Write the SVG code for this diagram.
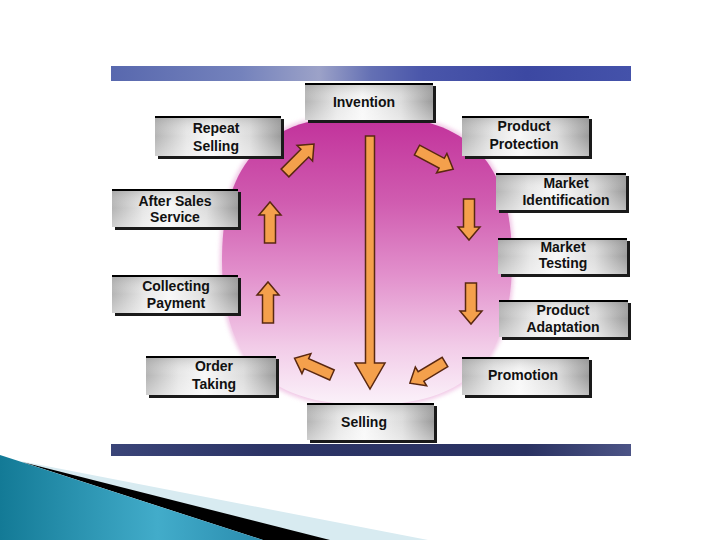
<svg xmlns="http://www.w3.org/2000/svg" xmlns:xlink="http://www.w3.org/1999/xlink" width="720" height="540" viewBox="0 0 720 540">
<defs>
  <linearGradient id="gTop" x1="0" y1="0" x2="1" y2="0">
    <stop offset="0" stop-color="#5868ae"/>
    <stop offset="0.25" stop-color="#7482bc"/>
    <stop offset="0.4" stop-color="#9ca2c8"/>
    <stop offset="0.5" stop-color="#6470b4"/>
    <stop offset="0.6" stop-color="#4a56aa"/>
    <stop offset="0.8" stop-color="#3c48a2"/>
    <stop offset="1" stop-color="#4452aa"/>
  </linearGradient>
  <linearGradient id="gBot" x1="0" y1="0" x2="1" y2="0">
    <stop offset="0" stop-color="#3a4478"/>
    <stop offset="0.3" stop-color="#2c3466"/>
    <stop offset="0.8" stop-color="#2a3262"/>
    <stop offset="1" stop-color="#4c5486"/>
  </linearGradient>
  <linearGradient id="gCircle" x1="0" y1="0" x2="0" y2="1">
    <stop offset="0" stop-color="#c1309a"/>
    <stop offset="0.3" stop-color="#d05cb0"/>
    <stop offset="0.55" stop-color="#e290cc"/>
    <stop offset="0.8" stop-color="#f2cce8"/>
    <stop offset="1" stop-color="#fbf2fa"/>
  </linearGradient>
  <linearGradient id="gBox" x1="0" y1="0" x2="1" y2="0">
    <stop offset="0" stop-color="#b4b4b4"/>
    <stop offset="0.25" stop-color="#e6e6e6"/>
    <stop offset="0.45" stop-color="#f8f8f8"/>
    <stop offset="0.75" stop-color="#dcdcdc"/>
    <stop offset="1" stop-color="#9a9a9a"/>
  </linearGradient>
  <linearGradient id="gBoxV" x1="0" y1="0" x2="0" y2="1">
    <stop offset="0" stop-color="#808080" stop-opacity="0.35"/>
    <stop offset="0.5" stop-color="#ffffff" stop-opacity="0"/>
    <stop offset="1" stop-color="#ffffff" stop-opacity="0.35"/>
  </linearGradient>
  <linearGradient id="gTeal" x1="0" y1="0" x2="1" y2="0">
    <stop offset="0" stop-color="#137a96"/>
    <stop offset="0.6" stop-color="#42acca"/>
    <stop offset="1" stop-color="#2a8cae"/>
  </linearGradient>
  <filter id="soft" x="-10%" y="-10%" width="120%" height="120%">
    <feGaussianBlur stdDeviation="2"/>
  </filter>
  <path id="arr" d="M0,-5.5 H28 V-11 L41,0 L28,11 V5.5 H0 Z"/>
  <style>
    .shadow { fill: #1a1a1a; }
    .box { fill: url(#gBox); }
    .boxv { fill: url(#gBoxV); }
    .top { fill: #000; }
    .lbl { font-family: "Liberation Sans", Arial, sans-serif; font-size: 14px; font-weight: bold; fill: #111; text-anchor: middle; }
    .arrow { fill: #f4a04c; stroke: #5a2810; stroke-width: 1.5; stroke-linejoin: miter; }
  </style>
</defs>

<rect width="720" height="540" fill="#ffffff"/>

<g id="frame">
  <rect x="111" y="66" width="520" height="15" fill="url(#gTop)"/>
  <rect x="111" y="444" width="520" height="12" fill="url(#gBot)"/>
</g>

<g id="decoration">
  <polygon points="20,461 428,540 263,540" fill="#d8ebf1"/>
  <polygon points="22,462 330,540 263,540" fill="#000000"/>
  <polygon points="0,455 263,540 0,540" fill="url(#gTeal)"/>
</g>

<g id="circle">
  <path d="M367,113 C469,113 514,158 514,260 C514,362 469,407 367,407 C265,407 220,362 220,260 C220,158 265,113 367,113 Z" fill="#e6a0d4" opacity="0.6" filter="url(#soft)"/>
  <path d="M367,115 C467,115 512,160 512,260 C512,360 467,405 367,405 C267,405 222,360 222,260 C222,160 267,115 367,115 Z" fill="url(#gCircle)"/>
</g>

<g id="connectors">
  <path class="arrow" d="M365.5,136 H374.5 V363 H385 L370,389 L355,363 H365.5 Z"/>
  <use xlink:href="#arr" class="arrow" transform="translate(285,173) rotate(-45)"/>
  <use xlink:href="#arr" class="arrow" transform="translate(417,150) rotate(28)"/>
  <use xlink:href="#arr" class="arrow" transform="translate(469,199) rotate(90)"/>
  <use xlink:href="#arr" class="arrow" transform="translate(471,283) rotate(90)"/>
  <use xlink:href="#arr" class="arrow" transform="translate(445,362) rotate(149)"/>
  <use xlink:href="#arr" class="arrow" transform="translate(332,375) rotate(-156)"/>
  <use xlink:href="#arr" class="arrow" transform="translate(268,323) rotate(-90)"/>
  <use xlink:href="#arr" class="arrow" transform="translate(270,243) rotate(-90)"/>
</g>

<g id="invention">
  <rect class="shadow" x="308" y="86" width="128" height="37"/>
  <rect class="box" x="305" y="83" width="128" height="37"/>
  <rect class="boxv" x="305" y="83" width="128" height="37"/>
  <rect class="top" x="305" y="83" width="128" height="2"/>
  <text class="lbl" x="364" y="107">Invention</text>
</g>

<g id="repeat-selling">
  <rect class="shadow" x="158" y="119" width="126" height="40"/>
  <rect class="box" x="155" y="116" width="126" height="40"/>
  <rect class="boxv" x="155" y="116" width="126" height="40"/>
  <rect class="top" x="155" y="116" width="126" height="2"/>
  <text class="lbl" x="216" y="133">Repeat</text>
  <text class="lbl" x="216" y="151">Selling</text>
</g>

<g id="product-protection">
  <rect class="shadow" x="465" y="119" width="127" height="40"/>
  <rect class="box" x="462" y="116" width="127" height="40"/>
  <rect class="boxv" x="462" y="116" width="127" height="40"/>
  <rect class="top" x="462" y="116" width="127" height="2"/>
  <text class="lbl" x="524" y="131">Product</text>
  <text class="lbl" x="524" y="149">Protection</text>
</g>

<g id="after-sales-service">
  <rect class="shadow" x="115" y="192" width="126" height="38"/>
  <rect class="box" x="112" y="189" width="126" height="38"/>
  <rect class="boxv" x="112" y="189" width="126" height="38"/>
  <rect class="top" x="112" y="189" width="126" height="2"/>
  <text class="lbl" x="175" y="206">After Sales</text>
  <text class="lbl" x="175" y="222">Service</text>
</g>

<g id="market-identification">
  <rect class="shadow" x="499" y="176" width="130" height="37"/>
  <rect class="box" x="496" y="173" width="130" height="37"/>
  <rect class="boxv" x="496" y="173" width="130" height="37"/>
  <rect class="top" x="496" y="173" width="130" height="2"/>
  <text class="lbl" x="566" y="188">Market</text>
  <text class="lbl" x="566" y="205">Identification</text>
</g>

<g id="market-testing">
  <rect class="shadow" x="501" y="241" width="129" height="36"/>
  <rect class="box" x="498" y="238" width="129" height="36"/>
  <rect class="boxv" x="498" y="238" width="129" height="36"/>
  <rect class="top" x="498" y="238" width="129" height="2"/>
  <text class="lbl" x="563" y="252">Market</text>
  <text class="lbl" x="563" y="268">Testing</text>
</g>

<g id="collecting-payment">
  <rect class="shadow" x="115" y="278" width="126" height="38"/>
  <rect class="box" x="112" y="275" width="126" height="38"/>
  <rect class="boxv" x="112" y="275" width="126" height="38"/>
  <rect class="top" x="112" y="275" width="126" height="2"/>
  <text class="lbl" x="176" y="291">Collecting</text>
  <text class="lbl" x="176" y="308">Payment</text>
</g>

<g id="product-adaptation">
  <rect class="shadow" x="502" y="303" width="129" height="37"/>
  <rect class="box" x="499" y="300" width="129" height="37"/>
  <rect class="boxv" x="499" y="300" width="129" height="37"/>
  <rect class="top" x="499" y="300" width="129" height="2"/>
  <text class="lbl" x="563" y="315">Product</text>
  <text class="lbl" x="563" y="332">Adaptation</text>
</g>

<g id="order-taking">
  <rect class="shadow" x="149" y="359" width="130" height="39"/>
  <rect class="box" x="146" y="356" width="130" height="39"/>
  <rect class="boxv" x="146" y="356" width="130" height="39"/>
  <rect class="top" x="146" y="356" width="130" height="2"/>
  <text class="lbl" x="214" y="371">Order</text>
  <text class="lbl" x="214" y="389">Taking</text>
</g>

<g id="promotion">
  <rect class="shadow" x="465" y="360" width="127" height="38"/>
  <rect class="box" x="462" y="357" width="127" height="38"/>
  <rect class="boxv" x="462" y="357" width="127" height="38"/>
  <rect class="top" x="462" y="357" width="127" height="2"/>
  <text class="lbl" x="523" y="380">Promotion</text>
</g>

<g id="selling">
  <rect class="shadow" x="310" y="406" width="127" height="37"/>
  <rect class="box" x="307" y="403" width="127" height="37"/>
  <rect class="boxv" x="307" y="403" width="127" height="37"/>
  <rect class="top" x="307" y="403" width="127" height="2"/>
  <text class="lbl" x="364" y="427">Selling</text>
</g>
</svg>
